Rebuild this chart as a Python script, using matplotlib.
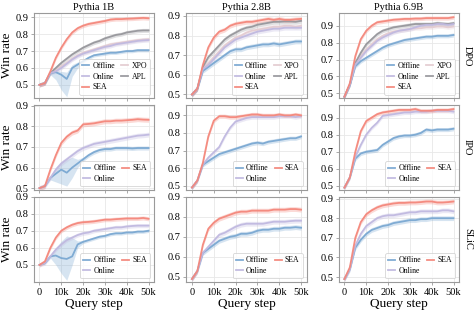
import numpy as np
import matplotlib
matplotlib.use("Agg")
import matplotlib.pyplot as plt

plt.rcParams['font.family'] = ['Liberation Serif', 'DejaVu Serif']

steps = [0, 2.5, 5, 7.5, 10, 12.5, 15, 17.5, 20, 22.5, 25, 27.5, 30, 32.5, 35, 37.5, 40, 42.5, 45, 47.5, 50]
models = ["Pythia 1B", "Pythia 2.8B", "Pythia 6.9B"]
methods = ["DPO", "IPO", "SLiC"]
xticks = [0, 10, 20, 30, 40, 50]
xticklabels = ["0", "10k", "20k", "30k", "40k", "50k"]

# ---- DPO ----
dpo_1b_offline = [0.50, 0.51, 0.57, 0.575, 0.56, 0.535, 0.60, 0.62, 0.64, 0.66, 0.675, 0.68, 0.685, 0.69, 0.69, 0.695, 0.70, 0.70, 0.705, 0.705, 0.705]
dpo_1b_online = [0.50, 0.51, 0.57, 0.58, 0.60, 0.625, 0.65, 0.67, 0.685, 0.695, 0.705, 0.715, 0.725, 0.73, 0.74, 0.745, 0.75, 0.755, 0.76, 0.763, 0.765]
dpo_1b_sea = [0.50, 0.51, 0.58, 0.66, 0.72, 0.77, 0.81, 0.835, 0.85, 0.86, 0.866, 0.872, 0.878, 0.886, 0.889, 0.889, 0.891, 0.892, 0.894, 0.896, 0.894]
dpo_1b_xpo = [0.50, 0.51, 0.57, 0.59, 0.61, 0.63, 0.655, 0.675, 0.69, 0.70, 0.71, 0.72, 0.73, 0.74, 0.745, 0.75, 0.755, 0.76, 0.765, 0.768, 0.77]
dpo_1b_apl = [0.50, 0.51, 0.57, 0.60, 0.63, 0.655, 0.68, 0.70, 0.72, 0.735, 0.75, 0.76, 0.775, 0.785, 0.795, 0.80, 0.81, 0.815, 0.82, 0.822, 0.822]

dpo_28b_offline = [0.50, 0.53, 0.62, 0.64, 0.66, 0.68, 0.70, 0.72, 0.73, 0.73, 0.74, 0.745, 0.75, 0.755, 0.755, 0.76, 0.755, 0.76, 0.765, 0.77, 0.77]
dpo_28b_online = [0.50, 0.53, 0.63, 0.65, 0.68, 0.71, 0.74, 0.76, 0.78, 0.79, 0.80, 0.81, 0.82, 0.825, 0.83, 0.835, 0.835, 0.84, 0.84, 0.84, 0.84]
dpo_28b_sea = [0.50, 0.53, 0.65, 0.74, 0.79, 0.82, 0.83, 0.85, 0.86, 0.865, 0.87, 0.87, 0.875, 0.88, 0.885, 0.88, 0.885, 0.88, 0.88, 0.883, 0.885]
dpo_28b_xpo = [0.50, 0.53, 0.63, 0.66, 0.69, 0.72, 0.75, 0.77, 0.79, 0.80, 0.815, 0.825, 0.83, 0.835, 0.84, 0.845, 0.845, 0.85, 0.85, 0.845, 0.85]
dpo_28b_apl = [0.50, 0.53, 0.64, 0.69, 0.72, 0.75, 0.78, 0.80, 0.815, 0.83, 0.84, 0.845, 0.855, 0.86, 0.865, 0.87, 0.87, 0.872, 0.872, 0.87, 0.875]

dpo_69b_offline = [0.48, 0.55, 0.66, 0.69, 0.71, 0.73, 0.75, 0.77, 0.785, 0.795, 0.805, 0.815, 0.82, 0.825, 0.83, 0.835, 0.835, 0.84, 0.84, 0.84, 0.845]
dpo_69b_online = [0.48, 0.55, 0.67, 0.71, 0.75, 0.78, 0.81, 0.83, 0.845, 0.86, 0.87, 0.875, 0.88, 0.89, 0.90, 0.905, 0.905, 0.91, 0.91, 0.905, 0.91]
dpo_69b_sea = [0.48, 0.56, 0.72, 0.82, 0.87, 0.90, 0.92, 0.925, 0.93, 0.935, 0.937, 0.94, 0.94, 0.942, 0.942, 0.945, 0.945, 0.945, 0.945, 0.945, 0.95]
dpo_69b_xpo = [0.48, 0.55, 0.67, 0.72, 0.76, 0.79, 0.82, 0.84, 0.855, 0.865, 0.87, 0.875, 0.88, 0.885, 0.885, 0.89, 0.89, 0.895, 0.895, 0.89, 0.895]
dpo_69b_apl = [0.48, 0.55, 0.68, 0.74, 0.79, 0.82, 0.85, 0.87, 0.88, 0.89, 0.895, 0.90, 0.905, 0.91, 0.91, 0.91, 0.91, 0.915, 0.912, 0.91, 0.915]

# ---- IPO ----
ipo_1b_offline = [0.50, 0.51, 0.55, 0.57, 0.59, 0.575, 0.60, 0.62, 0.64, 0.66, 0.675, 0.685, 0.69, 0.69, 0.695, 0.695, 0.695, 0.693, 0.695, 0.695, 0.695]
ipo_1b_online = [0.50, 0.51, 0.55, 0.59, 0.62, 0.64, 0.66, 0.68, 0.695, 0.705, 0.715, 0.72, 0.725, 0.73, 0.735, 0.74, 0.745, 0.75, 0.755, 0.757, 0.76]
ipo_1b_sea = [0.50, 0.51, 0.59, 0.66, 0.72, 0.75, 0.77, 0.78, 0.81, 0.812, 0.815, 0.82, 0.825, 0.825, 0.828, 0.828, 0.83, 0.832, 0.835, 0.833, 0.832]

ipo_28b_offline = [0.49, 0.53, 0.62, 0.64, 0.66, 0.68, 0.69, 0.70, 0.71, 0.72, 0.73, 0.74, 0.745, 0.74, 0.75, 0.755, 0.76, 0.765, 0.77, 0.77, 0.78]
ipo_28b_online = [0.49, 0.53, 0.62, 0.66, 0.69, 0.72, 0.78, 0.83, 0.865, 0.875, 0.885, 0.89, 0.89, 0.89, 0.89, 0.89, 0.895, 0.895, 0.895, 0.89, 0.895]
ipo_28b_sea = [0.49, 0.53, 0.63, 0.78, 0.87, 0.895, 0.895, 0.89, 0.89, 0.895, 0.90, 0.905, 0.905, 0.90, 0.90, 0.90, 0.905, 0.90, 0.90, 0.905, 0.90]

ipo_69b_offline = [0.49, 0.55, 0.66, 0.69, 0.70, 0.705, 0.71, 0.74, 0.76, 0.78, 0.79, 0.795, 0.795, 0.80, 0.81, 0.83, 0.825, 0.83, 0.83, 0.83, 0.835]
ipo_69b_online = [0.49, 0.55, 0.67, 0.74, 0.80, 0.84, 0.87, 0.91, 0.915, 0.92, 0.925, 0.93, 0.93, 0.935, 0.935, 0.935, 0.94, 0.94, 0.94, 0.94, 0.935]
ipo_69b_sea = [0.49, 0.55, 0.70, 0.82, 0.88, 0.90, 0.92, 0.93, 0.935, 0.94, 0.945, 0.945, 0.945, 0.95, 0.94, 0.94, 0.94, 0.945, 0.945, 0.945, 0.95]

# ---- SLiC ----
slic_1b_offline = [0.50, 0.51, 0.55, 0.555, 0.54, 0.535, 0.55, 0.62, 0.635, 0.645, 0.655, 0.665, 0.67, 0.68, 0.685, 0.685, 0.69, 0.69, 0.695, 0.695, 0.70]
slic_1b_online = [0.50, 0.51, 0.55, 0.59, 0.62, 0.645, 0.66, 0.675, 0.685, 0.69, 0.70, 0.705, 0.71, 0.715, 0.72, 0.72, 0.725, 0.728, 0.73, 0.73, 0.73]
slic_1b_sea = [0.50, 0.52, 0.60, 0.66, 0.70, 0.72, 0.735, 0.745, 0.75, 0.752, 0.755, 0.76, 0.765, 0.765, 0.768, 0.77, 0.772, 0.772, 0.772, 0.775, 0.77]

slic_28b_offline = [0.49, 0.53, 0.62, 0.64, 0.66, 0.68, 0.69, 0.70, 0.705, 0.715, 0.715, 0.72, 0.73, 0.735, 0.735, 0.74, 0.74, 0.745, 0.745, 0.748, 0.745]
slic_28b_online = [0.49, 0.53, 0.62, 0.65, 0.68, 0.71, 0.72, 0.735, 0.75, 0.76, 0.765, 0.765, 0.765, 0.765, 0.77, 0.775, 0.775, 0.775, 0.778, 0.78, 0.78]
slic_28b_sea = [0.49, 0.53, 0.66, 0.74, 0.77, 0.79, 0.80, 0.81, 0.82, 0.825, 0.825, 0.83, 0.83, 0.83, 0.83, 0.835, 0.835, 0.835, 0.838, 0.838, 0.835]

slic_69b_offline = [0.49, 0.54, 0.65, 0.69, 0.72, 0.74, 0.75, 0.76, 0.765, 0.775, 0.78, 0.785, 0.79, 0.79, 0.795, 0.795, 0.80, 0.80, 0.80, 0.80, 0.80]
slic_69b_online = [0.49, 0.54, 0.66, 0.72, 0.76, 0.78, 0.80, 0.81, 0.815, 0.815, 0.82, 0.825, 0.83, 0.83, 0.835, 0.835, 0.835, 0.835, 0.84, 0.84, 0.835]
slic_69b_sea = [0.49, 0.55, 0.70, 0.78, 0.82, 0.84, 0.855, 0.865, 0.87, 0.875, 0.878, 0.878, 0.88, 0.88, 0.882, 0.885, 0.885, 0.88, 0.88, 0.882, 0.885]

# lower / upper band edges for the unstable 1B offline runs
dpo_1b_offline_lo = [0.50, 0.505, 0.56, 0.53, 0.47, 0.43, 0.55, 0.60, 0.63, 0.65, 0.665, 0.67, 0.675, 0.68, 0.68, 0.685, 0.69, 0.69, 0.695, 0.695, 0.695]
dpo_1b_offline_hi = [0.50, 0.515, 0.58, 0.585, 0.58, 0.575, 0.62, 0.635, 0.65, 0.67, 0.685, 0.69, 0.695, 0.70, 0.70, 0.705, 0.71, 0.71, 0.715, 0.715, 0.715]
ipo_1b_offline_lo = [0.50, 0.505, 0.54, 0.53, 0.52, 0.51, 0.55, 0.60, 0.63, 0.65, 0.665, 0.675, 0.68, 0.68, 0.685, 0.685, 0.685, 0.683, 0.685, 0.685, 0.685]
ipo_1b_offline_hi = [0.50, 0.515, 0.56, 0.60, 0.625, 0.64, 0.65, 0.64, 0.65, 0.67, 0.685, 0.695, 0.70, 0.70, 0.705, 0.705, 0.705, 0.703, 0.705, 0.705, 0.705]
slic_1b_offline_lo = [0.50, 0.505, 0.54, 0.50, 0.45, 0.41, 0.50, 0.60, 0.625, 0.635, 0.645, 0.655, 0.66, 0.67, 0.675, 0.675, 0.68, 0.68, 0.685, 0.685, 0.69]
slic_1b_offline_hi = [0.50, 0.515, 0.56, 0.60, 0.64, 0.67, 0.66, 0.64, 0.645, 0.655, 0.665, 0.675, 0.68, 0.69, 0.695, 0.695, 0.70, 0.70, 0.705, 0.705, 0.71]

ylims = [[(0.42, 0.925), (0.48, 0.915), (0.47, 0.975)],
         [(0.49, 0.905), (0.475, 0.96), (0.475, 0.975)],
         [(0.40, 0.90), (0.475, 0.90), (0.475, 0.91)]]
yticks = [0.5, 0.6, 0.7, 0.8, 0.9]

C_OFF = '#7aa8d2'
C_ON = '#c0b9e0'
C_SEA = '#f4877b'
C_XPO = '#e4ccd1'
C_APL = '#97979c'

panels = [
    [
        dict(Offline=dpo_1b_offline, Online=dpo_1b_online, SEA=dpo_1b_sea, XPO=dpo_1b_xpo, APL=dpo_1b_apl),
        dict(Offline=dpo_28b_offline, Online=dpo_28b_online, SEA=dpo_28b_sea, XPO=dpo_28b_xpo, APL=dpo_28b_apl),
        dict(Offline=dpo_69b_offline, Online=dpo_69b_online, SEA=dpo_69b_sea, XPO=dpo_69b_xpo, APL=dpo_69b_apl),
    ],
    [
        dict(Offline=ipo_1b_offline, Online=ipo_1b_online, SEA=ipo_1b_sea),
        dict(Offline=ipo_28b_offline, Online=ipo_28b_online, SEA=ipo_28b_sea),
        dict(Offline=ipo_69b_offline, Online=ipo_69b_online, SEA=ipo_69b_sea),
    ],
    [
        dict(Offline=slic_1b_offline, Online=slic_1b_online, SEA=slic_1b_sea),
        dict(Offline=slic_28b_offline, Online=slic_28b_online, SEA=slic_28b_sea),
        dict(Offline=slic_69b_offline, Online=slic_69b_online, SEA=slic_69b_sea),
    ],
]
bands = {(0, 0): (dpo_1b_offline_lo, dpo_1b_offline_hi),
         (1, 0): (ipo_1b_offline_lo, ipo_1b_offline_hi),
         (2, 0): (slic_1b_offline_lo, slic_1b_offline_hi)}
colors = dict(Offline=C_OFF, Online=C_ON, SEA=C_SEA, XPO=C_XPO, APL=C_APL)
order = ['XPO', 'APL', 'Offline', 'Online', 'SEA']

fig, axes = plt.subplots(3, 3, figsize=(4.74, 3.11), dpi=100)
fig.subplots_adjust(left=34 / 474, right=459 / 474, top=1 - 13 / 311, bottom=1 - 282 / 311,
                    wspace=0.27, hspace=0.075)

x = np.array(steps)
for r in range(3):
    for c in range(3):
        ax = axes[r, c]
        data = panels[r][c]
        handles = {}
        for name in order:
            if name not in data:
                continue
            y = np.array(data[name])
            col = colors[name]
            if (r, c) in bands and name == 'Offline':
                lo, hi = bands[(r, c)]
            else:
                lo, hi = y - 0.012, y + 0.012
            ax.fill_between(x, lo, hi, color=col, alpha=0.3, lw=0)
            h, = ax.plot(x, y, color=col, lw=1.3, alpha=0.95)
            handles[name] = h
        ax.set_xlim(-2.5, 52.5)
        ax.set_ylim(*ylims[r][c])
        ax.set_yticks(yticks)
        ax.set_xticks(xticks)
        ax.grid(True, color='#e8e8e8', lw=0.6)
        ax.set_axisbelow(True)
        for s in ax.spines.values():
            s.set_color('#9a9a9a')
            s.set_linewidth(0.8)
        ax.tick_params(axis='both', labelsize=7.5, length=2.5, width=0.6, color='#9a9a9a', pad=1.5)
        if r == 2:
            ax.set_xticklabels(xticklabels)
            ax.set_xlabel('Query step', fontsize=9.5, labelpad=1)
        else:
            ax.set_xticklabels([])
        if c == 0:
            ax.set_ylabel('Win rate', fontsize=9.5, labelpad=2)
        if r == 0:
            ax.set_title(models[c], fontsize=7.5, pad=2)
        if c == 2:
            ax.text(1.07, 0.5, methods[r], transform=ax.transAxes, rotation=-90,
                    ha='center', va='center', fontsize=7.5)
        if r == 0:
            names = ['Offline', 'Online', 'SEA', 'XPO', 'APL']
        else:
            names = ['Offline', 'Online', 'SEA']
        leg = ax.legend([handles[n] for n in names], names, loc='lower right', ncol=2,
                        fontsize=5.6, handlelength=0.9, handletextpad=0.4, columnspacing=0.8,
                        labelspacing=0.35, borderpad=0.4, frameon=True, fancybox=True)
        leg.get_frame().set_edgecolor('#cccccc')
        leg.get_frame().set_linewidth(0.6)

fig.savefig('out.png', dpi=100)
